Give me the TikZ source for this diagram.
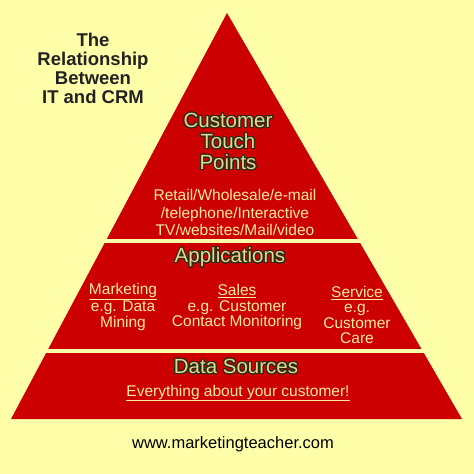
\documentclass[tikz,border=0pt]{standalone}
\usepackage{fontspec}
\setmainfont{Liberation Sans}
\usepackage[copies]{contour}
\contourlength{1pt}
\contournumber{24}
\definecolor{bg}{HTML}{FFFFAA}
\definecolor{pyr}{HTML}{CC0000}
\definecolor{txt}{HTML}{F8EC9C}
\definecolor{headfill}{HTML}{E2D696}
\definecolor{headline}{HTML}{2A2C12}
\definecolor{dark}{HTML}{222222}
\newcommand\hdtxt[1]{\textcolor{headfill}{\contour{headline}{#1}}}
\tikzset{
  titletext/.style={inner sep=0pt, align=center, text=dark, font=\bfseries\fontsize{18.5}{19}\selectfont},
  headtext/.style={inner sep=0pt, align=center, font=\fontsize{20.5}{21}\selectfont},
  bodytext/.style={inner sep=0pt, align=center, text=txt, font=\fontsize{15.5}{16}\selectfont},
  urltext/.style={inner sep=0pt, align=center, text=black, font=\fontsize{16.5}{17}\selectfont}
}
\begin{document}
\begin{tikzpicture}[x=1pt,y=-1pt]
\fill[bg] (0,0) rectangle (474,474);
\useasboundingbox (0,0) rectangle (474,474);
\coordinate (A) at (227,13);
\coordinate (L) at (11,419);
\coordinate (R) at (462,419);
\fill[pyr] (A) -- (L) -- (R) -- cycle;
\fill[bg] (0,238.5) rectangle (474,242.5);
\fill[bg] (0,348.5) rectangle (474,352.5);

\node[titletext] (title) at (93,68) {The\\Relationship\\Between\\IT and CRM};

\node[headtext] (ctp) at (228,142) {\hdtxt{Customer}\\\hdtxt{Touch}\\\hdtxt{Points}};
\node[bodytext, font=\fontsize{15.5}{17.5}\selectfont] (retail) at (235,212.5) {Retail/Wholesale/e-mail\\/telephone/Interactive\\TV/websites/Mail/video};

\node[headtext] (apps) at (230,258) {\hdtxt{Applications}};
\node[bodytext, font=\fontsize{15.5}{15.5}\selectfont] (mkt) at (123,307) {\underline{Marketing}\\e.g. Data\\Mining};
\node[bodytext, font=\fontsize{15.5}{15.5}\selectfont] (sales) at (237,307) {\underline{Sales}\\e.g. Customer\\Contact Monitoring};
\node[bodytext, font=\fontsize{15.5}{15.3}\selectfont] (serv) at (357,315) {\underline{Service}\\e.g.\\Customer\\Care};

\node[headtext] (data) at (236,367) {\hdtxt{Data Sources}};
\node[bodytext] (every) at (238,393) {\underline{Everything about your customer!}};

\node[urltext] (url) at (233,444) {www.marketingteacher.com};
\end{tikzpicture}
\end{document}
